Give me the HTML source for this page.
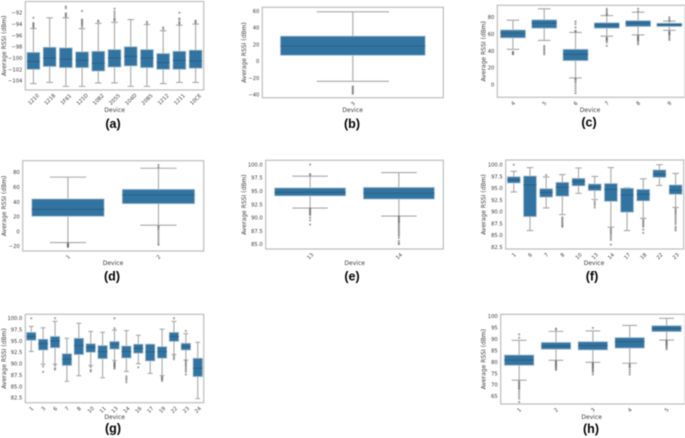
<!DOCTYPE html>
<html lang="en">
<head>
<meta charset="utf-8">
<title>Average RSSI by device</title>
<style>
html,body{margin:0;padding:0;background:#fff;width:685px;height:438px;overflow:hidden}
svg{display:block;filter:blur(0.42px)}
text{font-family:"DejaVu Sans","Liberation Sans",sans-serif;fill:#3a3a3a}
.tick{font-size:5.2px}
.axis-title{font-size:6px}
.panel-letter{font-family:"Liberation Sans",sans-serif;font-size:12.5px;font-weight:bold;fill:#000}
</style>
</head>
<body>
<svg id="chart" width="685" height="438" viewBox="0 0 685 438" xmlns="http://www.w3.org/2000/svg"></svg>
<script>
// Panel (a)
const aCategories = ['1210','1218','1F61','121D','10B2','2055','104D','20B5','1212','1211','10CE'];
const aQ1 = [-102,-101.5,-101.7,-101.7,-102.3,-101.6,-101.4,-101.7,-102,-102,-101.8];
const aMedian = [-100.6,-100,-100.2,-100.4,-100.9,-100,-99.7,-100,-100.8,-100.4,-100.5];
const aQ3 = [-99,-98.1,-98.2,-98.9,-98.8,-98.5,-98,-98.5,-99.2,-98.8,-98.6];
const aLow = [-104.5,-104.3,-105,-105,-104.4,-104.4,-105,-105,-104.5,-104.3,-104.3];
const aHigh = [-94.8,-92.9,-92.9,-94.8,-93.9,-93.7,-93.2,-94.1,-95.2,-94.2,-94];
const aOutliers = [[-92.9,-93.8,-94,-94.2,-94.4,-94.6],[],[-90.9,-91.2,-92.1,-92.3,-92.5,-92.7],[-91.7,-93.2,-93.4,-93.6,-93.8,-94,-94.2,-94.5],[-93.4,-93.6],[-91.3,-91.8,-92.2,-92.6,-93,-93.2,-93.4],[],[-93.6,-93.9],[-94.6,-94.9],[-92,-93,-93.2,-93.6,-93.8,-94],[-93.4,-93.6,-93.8]];
const aTicks = [-104,-102,-100,-98,-96,-94,-92];
// Panel (b)
const bCategories = ['3'];
const bQ1 = [7];
const bMedian = [18];
const bQ3 = [30];
const bLow = [-24];
const bHigh = [59];
const bOutliers = [[-30,-31.5,-33,-34.5,-36,-37.5,-39]];
const bTicks = [-40,-20,0,20,40,60];
// Panel (c)
const cCategories = ['4','5','6','7','8','9'];
const cQ1 = [55.5,67,28.5,67,69,69];
const cMedian = [61,73,36,70.5,73,71];
const cQ3 = [65,77,42,73.5,76,73];
const cLow = [42,52.5,8,57.5,59,64.5];
const cHigh = [76.5,90,62,82,86,75.5];
const cOutliers = [[36,37,38,39],[36,38,40,42,44,46],[-10,-7,-4,-1,2,4,6,7,63,64,68,72,75],[46,50,52,53,54,55,56,83,84,86,88,90],[48,50,52,53,54,55,56,57,58,87,90],[53,55,57,59,60,61,62,63,76,78,80]];
const cTicks = [0,20,40,60,80];
// Panel (d)
const dCategories = ['1','2'];
const dQ1 = [20.5,37.5];
const dMedian = [30,49.5];
const dQ3 = [44,57];
const dLow = [-15,8.5];
const dHigh = [73.5,85.5];
const dOutliers = [[-16,-17,-18,-19,-20,-21],[87,90,7,6,4,2,-1,-4,-7,-10,-13,-16,-18]];
const dTicks = [-20,0,20,40,60,80];
// Panel (e)
const eCategories = ['13','14'];
const eQ1 = [94.1,93.5];
const eMedian = [94.8,94.6];
const eQ3 = [95.6,95.7];
const eLow = [91.8,90.3];
const eHigh = [97.8,98.5];
const eOutliers = [[100,98,98.2,91.7,91.5,91.3,91.1,90.9,90.7,90.5,90,89.5,88.7],[90.2,90,89.8,89.6,89.4,89.2,89,88.7,88.4,88.1,87.8,87.5,87.2,86.9,86.6,86.2,85.6,85.2,85]];
const eTicks = [85,87.5,90,92.5,95,97.5,100];
// Panel (f)
const fCategories = ['1','6','7','8','10','13','14','17','18','22','23'];
const fQ1 = [96.1,88.95,93.1,93.3,95.5,94.5,92.2,89.9,92.3,97.3,93.7];
const fMedian = [96.75,95.7,94.1,95.2,96.45,95.2,94.75,93.55,93.7,97.95,94.55];
const fQ3 = [97.45,97.6,94.9,96.25,97.1,95.9,96,95,94.75,98.9,95.7];
const fLow = [94.2,86,90.8,89.4,93.9,92.6,86.7,86,88.6,95.6,90.9];
const fHigh = [98.6,99.4,97.4,97.9,99.3,97.5,99.4,95.1,97,100,98.15];
const fOutliers = [[100],[],[97.8],[88.8,88.5,88.2,87.9,87.6,87.3,87,86.8],[],[92.2,91.8,91.4,90.9],[86.4,86.1,85.8,85.5,85.2,84.8,84.4,84,83],[],[88.3,88,87.7,87.4,87.1,86.8,86.2,85.5],[],[90.6,90.3,90,89.7,89.4,89,88.6,88.2,87.8,87.4,86.8,86.4,86]];
const fTicks = [82.5,85,87.5,90,92.5,95,97.5,100];
// Panel (g)
const gCategories = ['1','3','6','7','8','10','11','13','14','16','17','19','22','23','24'];
const gQ1 = [95.15,93,93.5,89.6,92,92.5,91.1,93.2,91.25,92.3,90.6,91.2,94.9,93,87.15];
const gMedian = [96,94.4,95,91,94,93.6,92.65,94.3,92.65,93.4,92.6,92.65,96,93.75,89];
const gQ3 = [96.9,95.4,96,92.2,95.6,94.4,94,94.9,93.9,94.3,94.3,93.75,96.9,94.5,91.2];
const gLow = [92.7,89.85,89.9,86.1,87.35,89.6,86.9,90.7,88.3,90,87.85,87.35,92.05,90.8,82.3];
const gHigh = [98.2,97.9,99.3,95.6,98.9,97.1,96.9,97.4,97.3,96.25,94.3,97.6,99.3,96.6,94.7];
const gOutliers = [[100],[89.4,88.2],[100,89.6,89,88.7],[],[],[89.3,88.6,88.3],[],[100,97.8,90.4,90.2,90,89.8,89.6,89.4,89.2,88.9],[87.2,86.8,86.4,85.9],[89.2],[],[87.1,86.9,86.7,86.5,86.2],[100,91.8,91.4,91],[97.2,90.6,90.3,90,89.7,89.4,89,88.6,88.2,87.6],[]];
const gTicks = [82.5,85,87.5,90,92.5,95,97.5,100];
// Panel (h)
const hCategories = ['1','2','3','4','5'];
const hQ1 = [78.5,85.5,85.2,86,93.2];
const hMedian = [80.8,86.9,87.1,88.8,94.6];
const hQ3 = [83,88.5,88.8,90.6,95.8];
const hLow = [72,80.7,79.8,79.4,89.5];
const hHigh = [89.4,93.3,93.5,95.9,99];
const hOutliers = [[92,90.5,71.5,71,70.5,70,69.5,69,68.5,68,67,66,65,64,62.5],[94.5,94,80.3,80,79.6,79.2,78.8,78.4,78,77.5,77,76.5],[94.8,79.5,79.1,78.7,78.3,77.9,77.5,77,76.5,76,75.5,74.5],[79,78.5,78,77.5,76.5,75.5,74.5],[89.3,88.9,88.5,88.1,87.7,87.3,86.8,86.2,85.5]];
const hTicks = [65,70,75,80,85,90,95,100];

const SVG_NS = 'http://www.w3.org/2000/svg';
const root = document.getElementById('chart');

function mk(parent, tag, attrs, text) {
  const el = document.createElementNS(SVG_NS, tag);
  for (const k in attrs) el.setAttribute(k, attrs[k]);
  if (text !== undefined) el.textContent = text;
  parent.appendChild(el);
  return el;
}

function drawPanel(p) {
  const id = p.id;
  const g = mk(root, 'g', {});
  
  

  const sy = v => p.bottom - (v - p.yMin) / (p.yMax - p.yMin) * (p.bottom - p.top);
  const step = (p.right - p.left) / p.categories.length;
  const sx = i => p.left + step * (i + 0.5);
  const fmt = v => (v < 0 ? '\u2212' : '') + Math.abs(v).toFixed(p.decimals);

  // frame
  const frame = mk(g, 'rect', {x: p.left, y: p.top, width: p.right - p.left, height: p.bottom - p.top, fill: '#fff', stroke: '#bdbdbd', 'stroke-width': 1.2});
  
  

  // y ticks
  p.ticks.forEach(t => {
    const lab = mk(g, 'text', {class: 'tick', x: p.left - 3, y: sy(t) + 1.9, 'text-anchor': 'end'}, fmt(t));
    
    
  });

  // boxes
  p.categories.forEach((c, i) => {
    const x = sx(i);
    const boxW = step * 0.8;
    const capW = step * 0.4;
    const whiskers = mk(g, 'path', {
      d: 'M' + x + ' ' + sy(p.q3[i]) + 'V' + sy(p.high[i]) + 'M' + (x - capW / 2) + ' ' + sy(p.high[i]) + 'H' + (x + capW / 2) +
         'M' + x + ' ' + sy(p.q1[i]) + 'V' + sy(p.low[i]) + 'M' + (x - capW / 2) + ' ' + sy(p.low[i]) + 'H' + (x + capW / 2),
      fill: 'none', stroke: '#a8a8a8', 'stroke-width': 1.1
    });
    
    

    const box = mk(g, 'rect', {x: x - boxW / 2, y: sy(p.q3[i]), width: boxW, height: sy(p.q1[i]) - sy(p.q3[i]), fill: '#3274a1', stroke: '#b9c6d0', 'stroke-width': 0.8});
    
    

    const med = mk(g, 'line', {x1: x - boxW / 2, x2: x + boxW / 2, y1: sy(p.median[i]), y2: sy(p.median[i]), stroke: '#2a5a7e', 'stroke-width': 0.8});
    
    

    p.outliers[i].forEach(v => {
      const o = mk(g, 'circle', {cx: x, cy: sy(v), r: 0.85, fill: '#555', 'fill-opacity': 0.45, stroke: '#555', 'stroke-width': 0.4, 'stroke-opacity': 0.7});
      
      
    });

    const cy = p.bottom + 3 + (c.length * 3.2 * 0.707 + 3.5) / 2;
    const holder = mk(g, 'g', {transform: 'translate(' + x + ',' + cy + ') rotate(-45)'});
    
    
    const lab = mk(holder, 'text', {class: 'tick', x: 0, y: 1.9, 'text-anchor': 'middle'}, c);
    
    
  });

  const xt = mk(g, 'text', {class: 'axis-title', x: p.titleX, y: p.titleY, 'text-anchor': 'middle'}, 'Device');
  
  

  const yc = (p.top + p.bottom) / 2;
  const yt = mk(g, 'text', {class: 'axis-title', x: p.yTitleX, y: yc, 'text-anchor': 'middle', 'dominant-baseline': 'middle', transform: 'rotate(-90 ' + p.yTitleX + ' ' + yc + ')'}, 'Average RSSI (dBm)');
  
  

  const letter = mk(g, 'text', {class: 'panel-letter', x: p.letterX, y: p.letterY, 'text-anchor': 'middle'}, '(' + id + ')');
  
  
}

drawPanel({id:'a',categories:aCategories,q1:aQ1,median:aMedian,q3:aQ3,low:aLow,high:aHigh,outliers:aOutliers,ticks:aTicks,decimals:0,
  left:25.3,right:203.7,top:1.5,bottom:90,yMin:-105.64,yMax:-90.02,titleX:114.7,titleY:112,yTitleX:4.6,letterX:113,letterY:128});
drawPanel({id:'b',categories:bCategories,q1:bQ1,median:bMedian,q3:bQ3,low:bLow,high:bHigh,outliers:bOutliers,ticks:bTicks,decimals:0,
  left:262.3,right:443.3,top:7.3,bottom:97.7,yMin:-43.6,yMax:64.4,titleX:352.7,titleY:112,yTitleX:244.3,letterX:352,letterY:128});
drawPanel({id:'c',categories:cCategories,q1:cQ1,median:cMedian,q3:cQ3,low:cLow,high:cHigh,outliers:cOutliers,ticks:cTicks,decimals:0,
  left:497.3,right:685,top:5.3,bottom:97.3,yMin:-15,yMax:94.2,titleX:590,titleY:112,yTitleX:484,letterX:589,letterY:126.5});
drawPanel({id:'d',categories:dCategories,q1:dQ1,median:dMedian,q3:dQ3,low:dLow,high:dHigh,outliers:dOutliers,ticks:dTicks,decimals:0,
  left:22.7,right:203.7,top:160.7,bottom:251,yMin:-26.4,yMax:95.7,titleX:113,titleY:265,yTitleX:4.7,letterX:112,letterY:280.5});
drawPanel({id:'e',categories:eCategories,q1:eQ1,median:eMedian,q3:eQ3,low:eLow,high:eHigh,outliers:eOutliers,ticks:eTicks,decimals:1,
  left:265.7,right:443.3,top:160.3,bottom:249,yMin:84.1,yMax:100.8,titleX:354.7,titleY:265,yTitleX:244.3,letterX:352,letterY:280.5});
drawPanel({id:'f',categories:fCategories,q1:fQ1,median:fMedian,q3:fQ3,low:fLow,high:fHigh,outliers:fOutliers,ticks:fTicks,decimals:1,
  left:505.7,right:683.7,top:160,bottom:249,yMin:82.07,yMax:101,titleX:594,titleY:265,yTitleX:484,letterX:592,letterY:280.5});
drawPanel({id:'g',categories:gCategories,q1:gQ1,median:gMedian,q3:gQ3,low:gLow,high:gHigh,outliers:gOutliers,ticks:gTicks,decimals:1,
  left:25.3,right:203.7,top:314.3,bottom:402.7,yMin:81.4,yMax:100.88,titleX:114.7,titleY:419,yTitleX:4.7,letterX:113,letterY:432.5});
drawPanel({id:'h',categories:hCategories,q1:hQ1,median:hMedian,q3:hQ3,low:hLow,high:hHigh,outliers:hOutliers,ticks:hTicks,decimals:0,
  left:500.7,right:685,top:314.3,bottom:404,yMin:61.64,yMax:100.74,titleX:591.7,titleY:419,yTitleX:484,letterX:591,letterY:433});
</script>
</body>
</html>
